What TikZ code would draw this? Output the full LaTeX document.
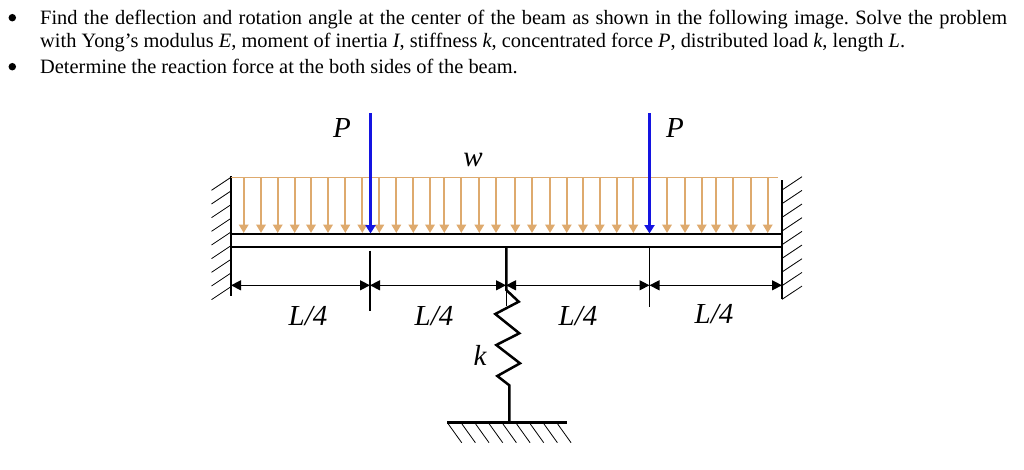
\documentclass[tikz,border=0pt]{standalone}
\usepackage{fontspec}
\setmainfont{Liberation Serif}
\usetikzlibrary{positioning,arrows.meta}
\definecolor{loadcolor}{RGB}{222,170,110}
\definecolor{forcecolor}{RGB}{20,20,225}
\newcommand{\labelsize}{\fontsize{29}{29}\selectfont\itshape}
\begin{document}
\frenchspacing
\begin{tikzpicture}[x=1pt,y=-1pt,font=\fontsize{20.4}{24}\selectfont]
            \tikzstyle{line text}=[anchor=base west,inner sep=0]
            \tikzstyle{bullet dot}=[circle,fill=black,inner sep=0,minimum size=7.5pt]
            \tikzstyle{dim label}=[inner sep=0,font=\labelsize]
            \tikzstyle{wall}=[line width=2.8pt]
            \tikzstyle{spring}=[line width=2.5pt]
            \tikzstyle{beam}=[line width=2.2pt]
            \tikzstyle{hatch}=[line width=0.8pt]
            \tikzstyle{tick}=[line width=1.2pt]
            \tikzstyle{dim}=[line width=1.2pt,{Triangle[length=10pt,width=10pt]}-{Triangle[length=10pt,width=10pt]}]
            \tikzstyle{load}=[loadcolor,line width=2pt,-{Triangle[length=8.5pt,width=9.5pt]}]
            \tikzstyle{force}=[forcecolor,line width=2.4pt,-{Triangle[length=8.5pt,width=10pt]}]
            \useasboundingbox (0,0) rectangle (1024,469);
            % text
            \node(b1)[bullet dot] at (12.3,17.7){};
            \node(b2)[bullet dot] at (12.3,66.7){};
            \node(t1)[line text] at (40,24){\makebox[967pt][s]{Find the deflection and rotation angle at the center of the beam as shown in the following image. Solve the problem}};
            \node(t2)[line text] at (40,47){with Yong’s modulus \textit{E}, moment of inertia \textit{I}, stiffness \textit{k}, concentrated force \textit{P}, distributed load \textit{k}, length \textit{L}.};
            \node(t3)[line text] at (40,73){Determine the reaction force at the both sides of the beam.};
            % walls and beam
            \coordinate(wl1) at (231,176);
            \coordinate(wl2) at (231,296);
            \coordinate(wr1) at (782,180);
            \coordinate(wr2) at (782,299);
            \coordinate(bl1) at (231,234);
            \coordinate(br1) at (782,234);
            \coordinate(bl2) at (231,247.3);
            \coordinate(br2) at (782,247.3);
            \draw[wall] (wl1) -- (wl2);
            \draw[wall] (wr1) -- (wr2);
            \draw[beam] (bl1) -- (br1);
            \draw[beam] (bl2) -- (br2);
            \foreach \i in {0,...,8}{
              \draw[hatch] (231,177.3+13.67*\i) -- ++(-19.5,13);
              \draw[hatch] (782,190+13.67*\i) -- ++(20,-13.3);
            }
            % distributed load
            \coordinate(ql) at (231,177.3);
            \coordinate(qr) at (777.7,177.3);
            \draw[loadcolor,line width=1.5pt] (ql) -- (qr);
            \foreach \x in {243.7,261,277.7,294.7,311,328,345.3,362.3,379.3,396.3,413.3,430,444.3,461.3,479.3,496,515.3,532,550,566.7,583,599.7,616.7,633.3,667,685,701.7,716,733,751,767.7}{
              \draw[load] (\x,177.3) -- (\x,233);
            }
            % forces
            \coordinate(f1) at (370.5,113);
            \coordinate(f2) at (649.5,113);
            \coordinate(f1end) at (370.5,233.5);
            \coordinate(f2end) at (649.5,233.5);
            \draw[force] (f1) -- (f1end);
            \draw[force] (f2) -- (f2end);
            \node(P1)[dim label] at (342,128){P};
            \node(P2)[dim label] at (675,128){P};
            \node(w)[dim label] at (473,160){w};
            % dimensions
            \coordinate(d1) at (231,285.3);
            \coordinate(d2) at (370,285.3);
            \coordinate(d3) at (506,285.3);
            \coordinate(d4) at (649.5,285.3);
            \coordinate(d5) at (782,285.3);
            \draw[tick] (370,250.7) -- (370,311);
            \draw[tick] (649.5,248) -- (649.5,306.7);
            \draw[dim] (d1) -- (d2);
            \draw[dim] (d2) -- (d3);
            \draw[dim] (d3) -- (d4);
            \draw[dim] (d4) -- (d5);
            \node(L1)[dim label] at (308,316){L/4};
            \node(L2)[dim label] at (434,316){L/4};
            \node(L3)[dim label] at (578,316){L/4};
            \node(L4)[dim label] at (714,314){L/4};
            % spring
            \coordinate(s0) at (506.3,247.3);
            \coordinate(g0) at (509.3,422.3);
            \draw[spring] (s0) -- (506.3,290) -- (518.7,301.7) -- (495.3,314) -- (519.3,333.3) -- (496.3,345) -- (520,363.3) -- (497.3,376) -- (509.3,385.3) -- (g0);
            \draw[tick] (506.3,290) -- (506.3,306);
            \node(k)[dim label] at (480,355){k};
            % ground
            \coordinate(gl) at (447.3,422.3);
            \coordinate(gr) at (566.7,422.3);
            \draw[wall] (gl) -- (gr);
            \foreach \i in {0,...,8}{
              \draw[hatch] (448.3+13.67*\i,424) -- ++(13.4,18.7);
            }
          \end{tikzpicture}
\end{document}
